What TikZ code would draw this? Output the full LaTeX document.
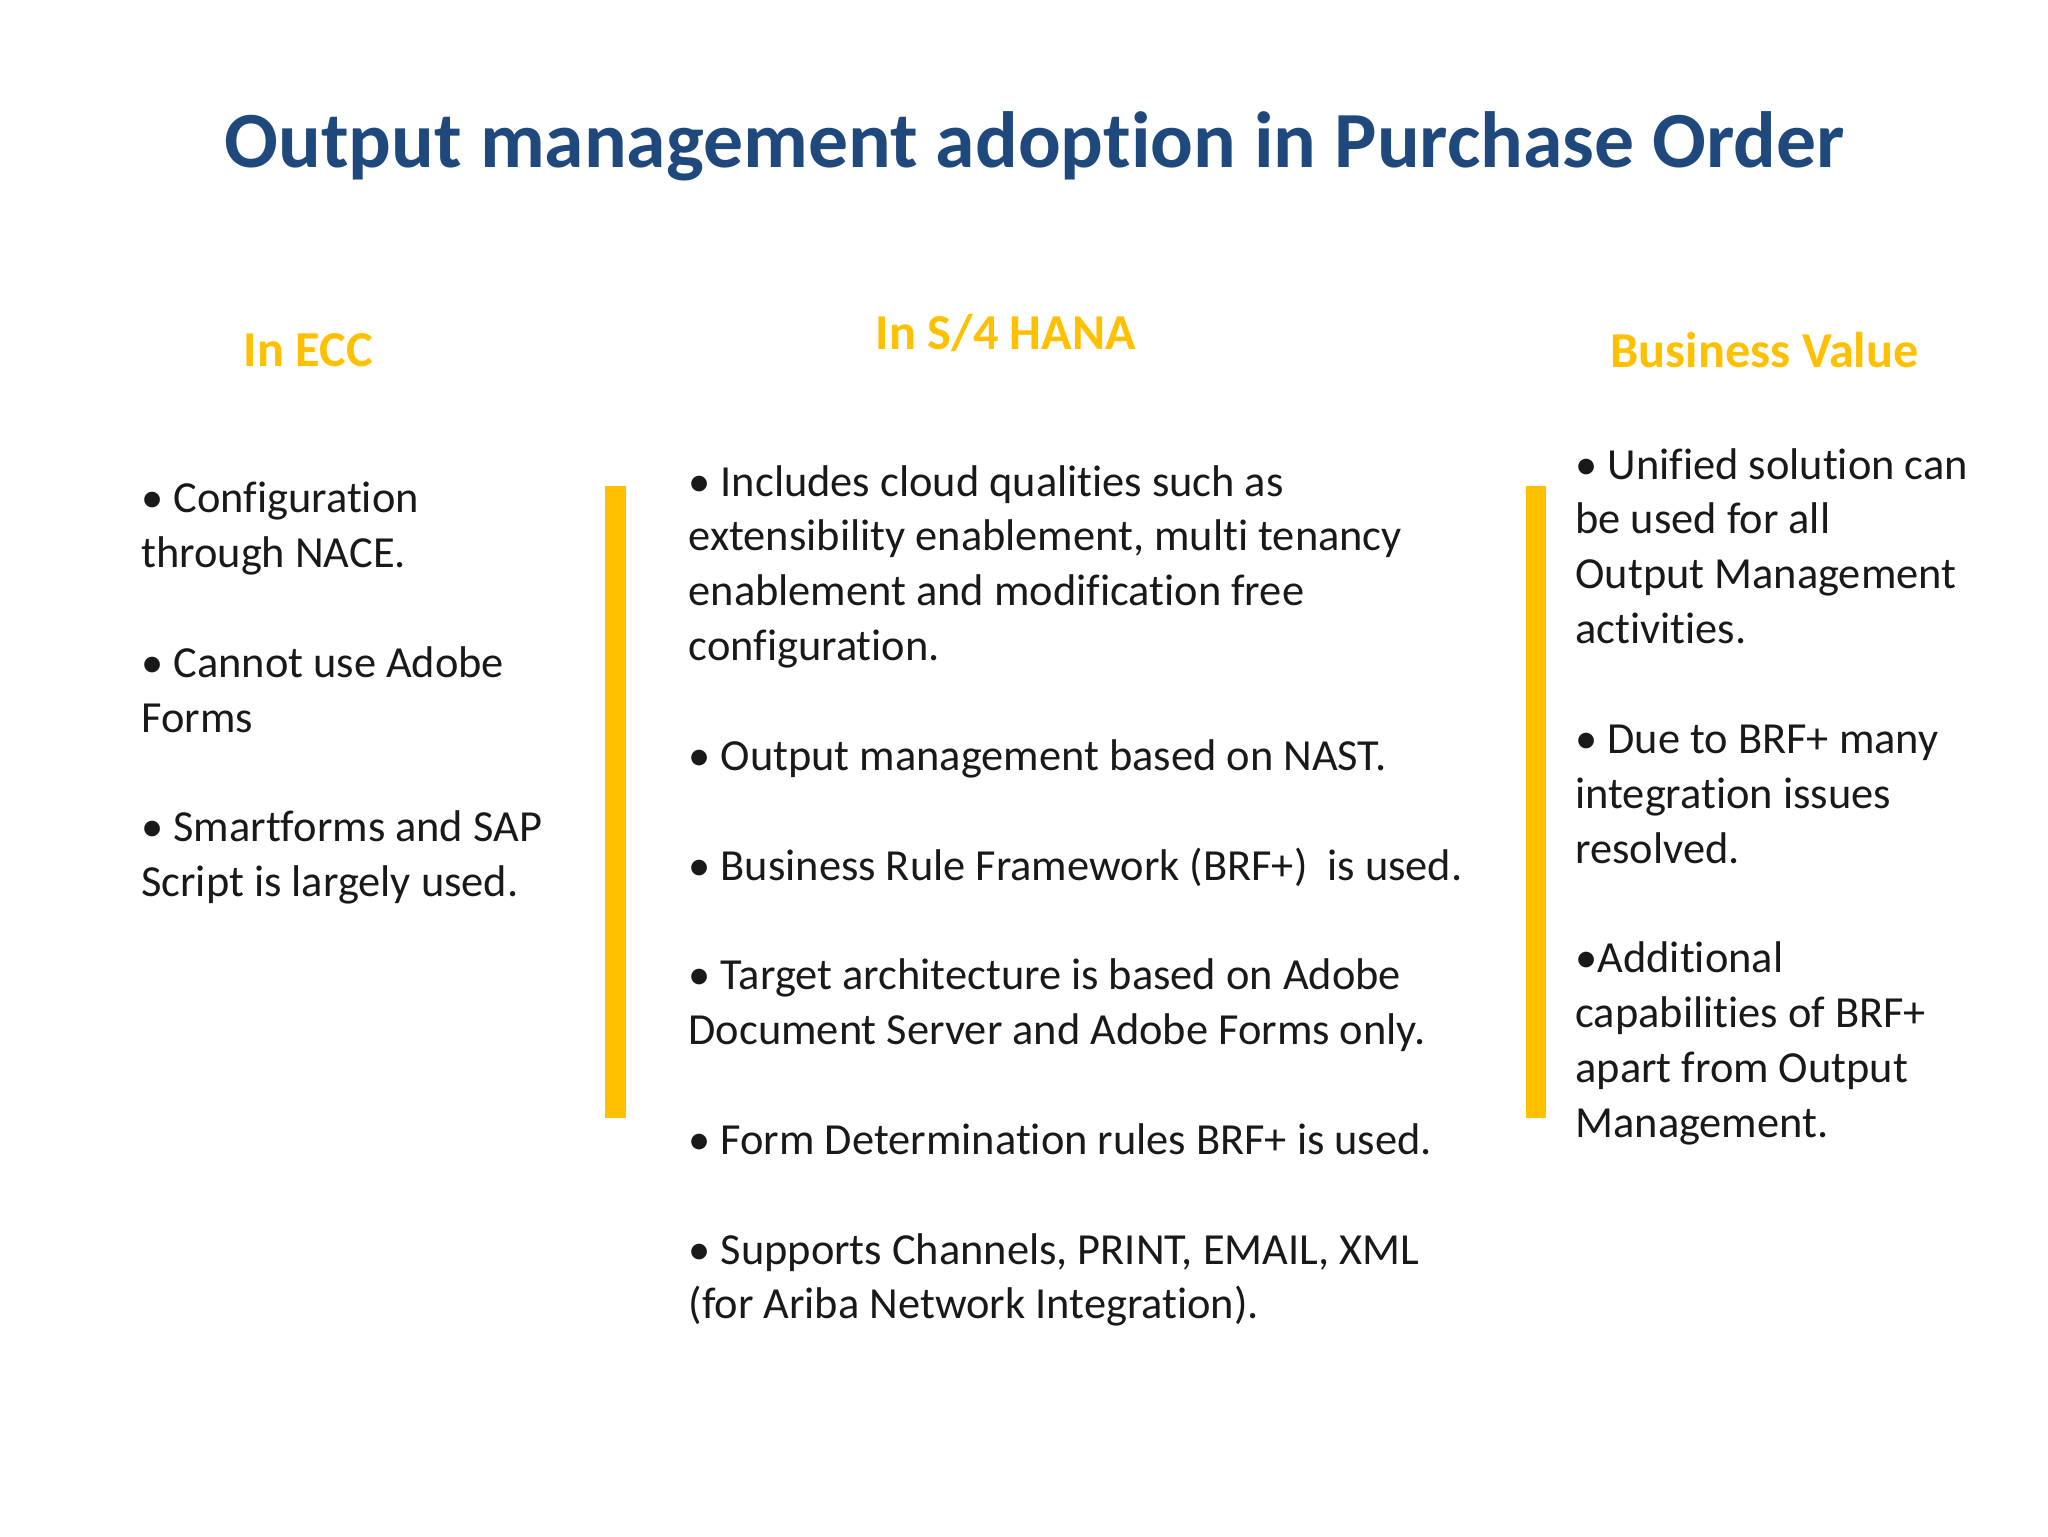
\documentclass[tikz,border=0pt]{standalone}
\usepackage{fontspec}
\setmainfont{Carlito}[Ligatures=NoCommon]
\definecolor{ttl}{HTML}{1F497D}
\definecolor{gold}{HTML}{FFC000}
\begin{document}
\begin{tikzpicture}[x=1pt,y=-1pt,
  head/.style={font=\fontsize{38.5}{44}\selectfont\bfseries, text=gold, inner sep=0},
  body/.style={font=\fontsize{34}{42}\selectfont, align=left, anchor=north west, inner sep=0, text=black!90},
  bar/.style={fill=gold, draw=none}]
\useasboundingbox (0,0) rectangle (1568,1176);
\node[font=\fontsize{61}{66}\selectfont\bfseries, text=ttl, inner sep=0] (title) at (792,112) {Output management adoption in Purchase Order};
\node[head] (h1) at (236,268) {In ECC};
\node[head] (h2) at (770,255) {In S/4 HANA};
\node[head] (h3) at (1351,268) {Business Value};
\fill[bar] (463,372) rectangle (479,856);
\fill[bar] (1168,372) rectangle (1184,856);
\node[body] (c1) at (108,369) {• Configuration\\through NACE.\\[42pt]• Cannot use Adobe\\Forms\\[42pt]• Smartforms and SAP\\Script is largely used.};
\node[body] (c2) at (527,356) {• Includes cloud qualities such as\\extensibility enablement, multi tenancy\\enablement and modification free\\configuration.\\[42pt]• Output management based on NAST.\\[42pt]• Business Rule Framework (BRF+)~~is used.\\[42pt]• Target architecture is based on Adobe\\Document Server and Adobe Forms only.\\[42pt]• Form Determination rules BRF+ is used.\\[42pt]• Supports Channels, PRINT, EMAIL, XML\\(for Ariba Network Integration).};
\node[body] (c3) at (1206,343) {• Unified solution can\\be used for all\\Output Management\\activities.\\[42pt]• Due to BRF+ many\\integration issues\\resolved.\\[42pt]•Additional\\capabilities of BRF+\\apart from Output\\Management.};
\end{tikzpicture}
\end{document}
